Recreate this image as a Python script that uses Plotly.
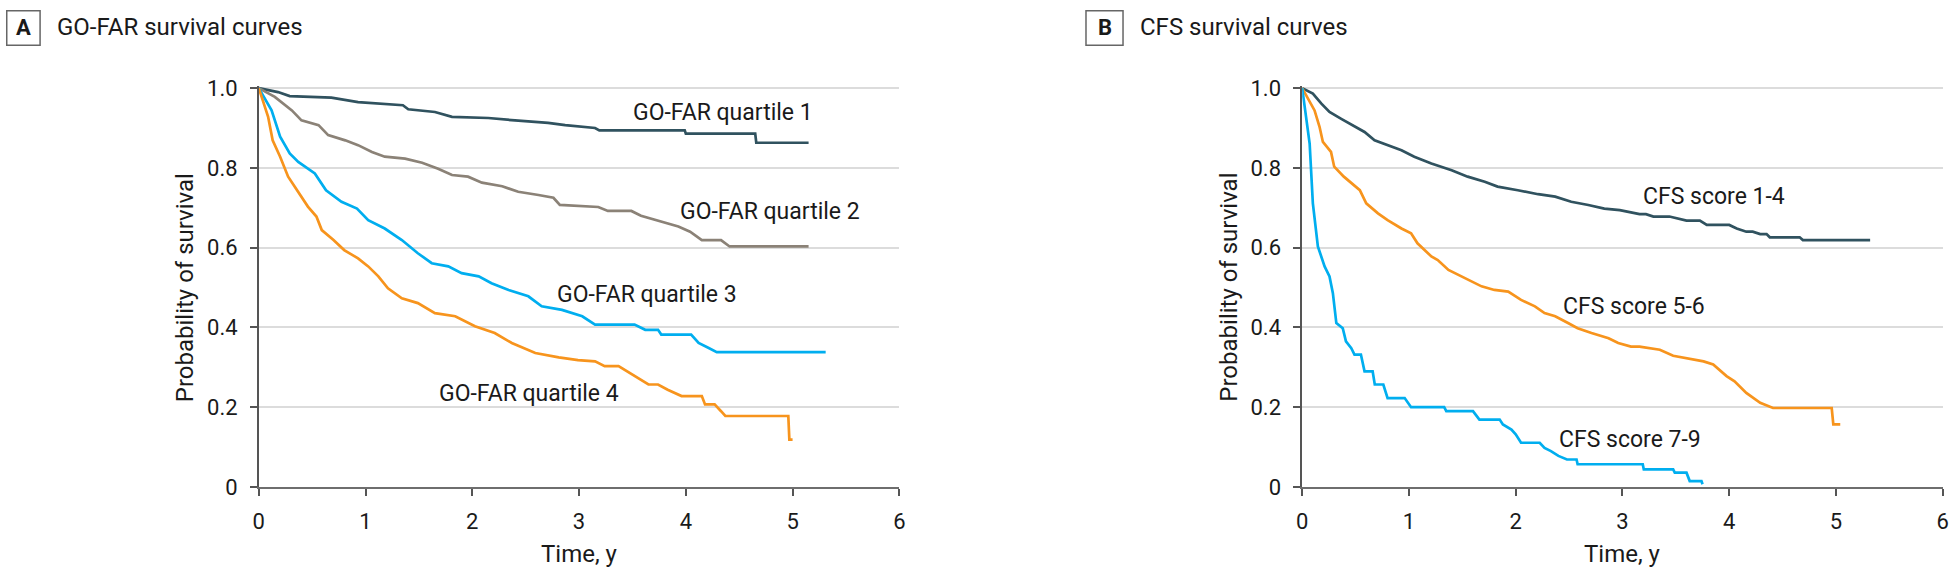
import plotly.graph_objects as go

# ---------------- Data ----------------
# Panel A: GO-FAR quartiles (time in years, survival probability)
q1_t = [0, 0.18, 0.29, 0.68, 0.93, 1.35, 1.40, 1.65, 1.81, 2.15, 2.40, 2.71, 2.87, 3.15, 3.19, 3.99, 4.00, 4.65, 4.66, 5.15]
q1_s = [1.0, 0.99, 0.98, 0.976, 0.965, 0.957, 0.947, 0.94, 0.928, 0.925, 0.919, 0.913, 0.907, 0.90, 0.894, 0.894, 0.886, 0.886, 0.863, 0.863]

q2_t = [0, 0.15, 0.31, 0.40, 0.56, 0.65, 0.81, 0.93, 1.06, 1.18, 1.37, 1.53, 1.68, 1.81, 1.96, 2.09, 2.28, 2.43, 2.62, 2.76, 2.82, 3.18, 3.27, 3.49, 3.58, 3.74, 3.93, 4.04, 4.15, 4.33, 4.41, 5.15]
q2_s = [1.0, 0.978, 0.944, 0.919, 0.907, 0.882, 0.869, 0.857, 0.84, 0.828, 0.823, 0.813, 0.798, 0.782, 0.778, 0.763, 0.754, 0.74, 0.732, 0.725, 0.707, 0.702, 0.692, 0.692, 0.68, 0.667, 0.653, 0.64, 0.619, 0.619, 0.603, 0.603]

q3_t = [0, 0.12, 0.20, 0.29, 0.37, 0.525, 0.63, 0.775, 0.92, 1.025, 1.18, 1.34, 1.49, 1.62, 1.775, 1.90, 2.06, 2.18, 2.34, 2.525, 2.65, 2.84, 3.03, 3.15, 3.52, 3.62, 3.74, 3.77, 4.05, 4.12, 4.21, 4.29, 5.31]
q3_s = [1.0, 0.944, 0.878, 0.836, 0.815, 0.786, 0.744, 0.715, 0.698, 0.669, 0.648, 0.619, 0.586, 0.561, 0.553, 0.536, 0.528, 0.511, 0.494, 0.478, 0.453, 0.444, 0.428, 0.407, 0.407, 0.394, 0.394, 0.382, 0.382, 0.361, 0.349, 0.338, 0.338]

q4_t = [0, 0.0875, 0.13, 0.20, 0.275, 0.37, 0.46, 0.54, 0.59, 0.70, 0.80, 0.93, 1.025, 1.12, 1.21, 1.34, 1.49, 1.65, 1.84, 2.025, 2.21, 2.37, 2.59, 2.81, 2.99, 3.15, 3.24, 3.37, 3.52, 3.65, 3.74, 3.83, 3.96, 4.15, 4.18, 4.27, 4.33, 4.37, 4.96, 4.97, 5.0]
q4_s = [1.0, 0.928, 0.869, 0.828, 0.778, 0.74, 0.703, 0.678, 0.644, 0.619, 0.594, 0.573, 0.553, 0.528, 0.498, 0.473, 0.461, 0.436, 0.428, 0.403, 0.386, 0.361, 0.336, 0.325, 0.318, 0.315, 0.303, 0.303, 0.278, 0.257, 0.257, 0.244, 0.228, 0.228, 0.207, 0.207, 0.19, 0.178, 0.178, 0.119, 0.119]

# Panel B: CFS score groups
c14_t = [0, 0.10, 0.18, 0.256, 0.366, 0.475, 0.584, 0.678, 0.80, 0.93, 1.05, 1.21, 1.40, 1.55, 1.71, 1.83, 2.02, 2.21, 2.37, 2.52, 2.68, 2.83, 2.975, 3.16, 3.22, 3.29, 3.44, 3.60, 3.725, 3.79, 4.0, 4.07, 4.16, 4.22, 4.29, 4.35, 4.38, 4.66, 4.69, 5.32]
c14_s = [1.0, 0.986, 0.961, 0.94, 0.923, 0.907, 0.89, 0.869, 0.857, 0.844, 0.828, 0.811, 0.794, 0.778, 0.765, 0.753, 0.744, 0.734, 0.728, 0.715, 0.707, 0.698, 0.694, 0.684, 0.684, 0.678, 0.678, 0.668, 0.668, 0.657, 0.657, 0.648, 0.64, 0.64, 0.634, 0.634, 0.626, 0.626, 0.619, 0.619]

c56_t = [0, 0.116, 0.1625, 0.194, 0.27, 0.30, 0.39, 0.46, 0.54, 0.60, 0.71, 0.80, 0.93, 1.02, 1.08, 1.21, 1.27, 1.37, 1.49, 1.60, 1.68, 1.80, 1.93, 2.05, 2.18, 2.27, 2.37, 2.49, 2.58, 2.71, 2.87, 2.96, 3.08, 3.16, 3.35, 3.475, 3.60, 3.76, 3.85, 3.91, 3.975, 4.05, 4.16, 4.29, 4.41, 4.96, 4.975, 5.04]
c56_s = [1.0, 0.944, 0.903, 0.865, 0.84, 0.803, 0.778, 0.761, 0.744, 0.711, 0.686, 0.669, 0.648, 0.636, 0.611, 0.578, 0.569, 0.544, 0.528, 0.515, 0.503, 0.494, 0.49, 0.469, 0.453, 0.436, 0.428, 0.411, 0.398, 0.386, 0.373, 0.361, 0.352, 0.352, 0.344, 0.329, 0.323, 0.315, 0.307, 0.294, 0.278, 0.265, 0.236, 0.211, 0.198, 0.198, 0.157, 0.157]

c79_t = [0, 0.07, 0.10, 0.147, 0.21, 0.256, 0.2875, 0.32, 0.38, 0.41, 0.46, 0.49, 0.55, 0.584, 0.66, 0.68, 0.76, 0.80, 0.96, 0.99, 1.02, 1.33, 1.35, 1.60, 1.66, 1.85, 1.88, 1.96, 2.0, 2.05, 2.225, 2.27, 2.33, 2.40, 2.48, 2.57, 2.58, 3.19, 3.20, 3.475, 3.49, 3.60, 3.63, 3.74, 3.75]
c79_s = [1.0, 0.861, 0.711, 0.603, 0.553, 0.528, 0.486, 0.411, 0.398, 0.365, 0.348, 0.332, 0.332, 0.29, 0.29, 0.257, 0.257, 0.223, 0.223, 0.211, 0.2, 0.2, 0.19, 0.19, 0.169, 0.169, 0.157, 0.144, 0.132, 0.111, 0.111, 0.098, 0.09, 0.078, 0.069, 0.069, 0.057, 0.057, 0.044, 0.044, 0.036, 0.036, 0.015, 0.015, 0.007]

x_ticks = [0, 1, 2, 3, 4, 5, 6]
y_ticks = [0, 0.2, 0.4, 0.6, 0.8, 1.0]
y_ticktext = ["0", "0.2", "0.4", "0.6", "0.8", "1.0"]

DARK = "#30525f"
GRAY = "#8b8277"
BLUE = "#00aeef"
ORANGE = "#f7941d"

panel_a = [(q1_t, q1_s, DARK, "GO-FAR quartile 1"),
           (q2_t, q2_s, GRAY, "GO-FAR quartile 2"),
           (q3_t, q3_s, BLUE, "GO-FAR quartile 3"),
           (q4_t, q4_s, ORANGE, "GO-FAR quartile 4")]
panel_b = [(c14_t, c14_s, DARK, "CFS score 1-4"),
           (c56_t, c56_s, ORANGE, "CFS score 5-6"),
           (c79_t, c79_s, BLUE, "CFS score 7-9")]

# Label positions (data coords)
labels_a = [("GO-FAR quartile 1", 4.35, 0.94), ("GO-FAR quartile 2", 4.79, 0.69),
            ("GO-FAR quartile 3", 3.64, 0.4825), ("GO-FAR quartile 4", 2.53, 0.235)]
labels_b = [("CFS score 1-4", 3.86, 0.7275), ("CFS score 5-6", 3.11, 0.4525),
            ("CFS score 7-9", 3.075, 0.12)]

W, H = 1955, 581
# empirical mapping of the photographed page: page offset and scale
OFF = 8.0
SX, SY = 0.993, 0.963
FONT = "Roboto"
TXT = "#1a1a1a"

def fx(t):
    return t / SX - OFF

def fy(t):
    return t / SY - OFF

def px_x(t):
    return fx(t) / W

def px_y(t):
    return (H - fy(t)) / H

fig = go.Figure()
for t, s, c, n in panel_a:
    fig.add_trace(go.Scatter(x=t, y=s, mode="lines", line=dict(color=c, width=2.7),
                             name=n, xaxis="x", yaxis="y", showlegend=False))
for t, s, c, n in panel_b:
    fig.add_trace(go.Scatter(x=t, y=s, mode="lines", line=dict(color=c, width=2.7),
                             name=n, xaxis="x2", yaxis="y2", showlegend=False))

YTOP = 1.006
y_dom = [px_y(486), px_y(486 - 400 * YTOP)]
xa_dom = [px_x(260.5), px_x(900.5)]
xb_dom = [px_x(1303), px_x(1943)]

xcommon = dict(range=[0, 6], tickvals=x_ticks, showline=True, linecolor="#6e6e6e", linewidth=2,
               ticks="outside", ticklen=7, tickwidth=1.5, tickcolor="#555", showgrid=False,
               zeroline=False, tickfont=dict(family=FONT, size=22, color=TXT), ticklabelstandoff=7,
               fixedrange=True)
ycommon = dict(range=[0, YTOP], tickvals=y_ticks, ticktext=y_ticktext, showline=True,
               linecolor="#555", linewidth=1.5, ticks="outside", ticklen=7, tickwidth=1.5,
               tickcolor="#555", showgrid=True, gridcolor="#dcdcdc", gridwidth=2, zeroline=False,
               tickfont=dict(family=FONT, size=22, color=TXT), ticklabelstandoff=8, fixedrange=True)

fig.update_layout(
    width=W, height=H, margin=dict(l=0, r=0, t=0, b=0),
    paper_bgcolor="white", plot_bgcolor="white",
    xaxis=dict(domain=xa_dom, anchor="y", **xcommon),
    yaxis=dict(domain=y_dom, anchor="x", **ycommon),
    xaxis2=dict(domain=xb_dom, anchor="y2", **xcommon),
    yaxis2=dict(domain=y_dom, anchor="x2", **ycommon),
)

ann = []
for text, x, y in labels_a:
    ann.append(dict(text=text, x=x, y=y, xref="x", yref="y", showarrow=False,
                    font=dict(family=FONT, size=23, color=TXT), xanchor="center", yanchor="middle"))
for text, x, y in labels_b:
    ann.append(dict(text=text, x=x, y=y, xref="x2", yref="y2", showarrow=False,
                    font=dict(family=FONT, size=23, color=TXT), xanchor="center", yanchor="middle"))

# axis titles
for xc, yc in [(186.5, 286), (1229, 286)]:
    ann.append(dict(text="Probability of survival", x=px_x(xc), y=px_y(yc), xref="paper", yref="paper",
                    showarrow=False, textangle=-90, xanchor="center", yanchor="middle",
                    font=dict(family=FONT, size=24, color=TXT)))
for xc in [580.5, 1623]:
    ann.append(dict(text="Time, y", x=px_x(xc), y=px_y(553), xref="paper", yref="paper",
                    showarrow=False, xanchor="center", yanchor="middle",
                    font=dict(family=FONT, size=24, color=TXT)))

# panel titles
shapes = []
for letter, bx0, bx1, tx, title in [("A", 5, 42, 57, "GO-FAR survival curves"),
                                    ("B", 1087, 1124, 1139, "CFS survival curves")]:
    x0 = max(px_x(bx0), 0.75 / W)
    x1 = px_x(bx1)
    y1 = min(px_y(5), 1 - 0.75 / H)
    y0 = px_y(43)
    shapes.append(dict(type="rect", xref="paper", yref="paper", x0=x0, x1=x1,
                       y0=y0, y1=y1, line=dict(color="#666", width=1.5), fillcolor="white"))
    ann.append(dict(text="<b>%s</b>" % letter, x=(x0 + x1) / 2, y=(y0 + y1) / 2, xref="paper",
                    yref="paper", showarrow=False, xanchor="center", yanchor="middle",
                    font=dict(family=FONT, size=22, color=TXT)))
    ann.append(dict(text=title, x=px_x(tx), y=px_y(25), xref="paper", yref="paper", showarrow=False,
                    xanchor="left", yanchor="middle", font=dict(family=FONT, size=24, color=TXT)))

fig.update_layout(annotations=ann, shapes=shapes)
fig.write_html("out.html")
